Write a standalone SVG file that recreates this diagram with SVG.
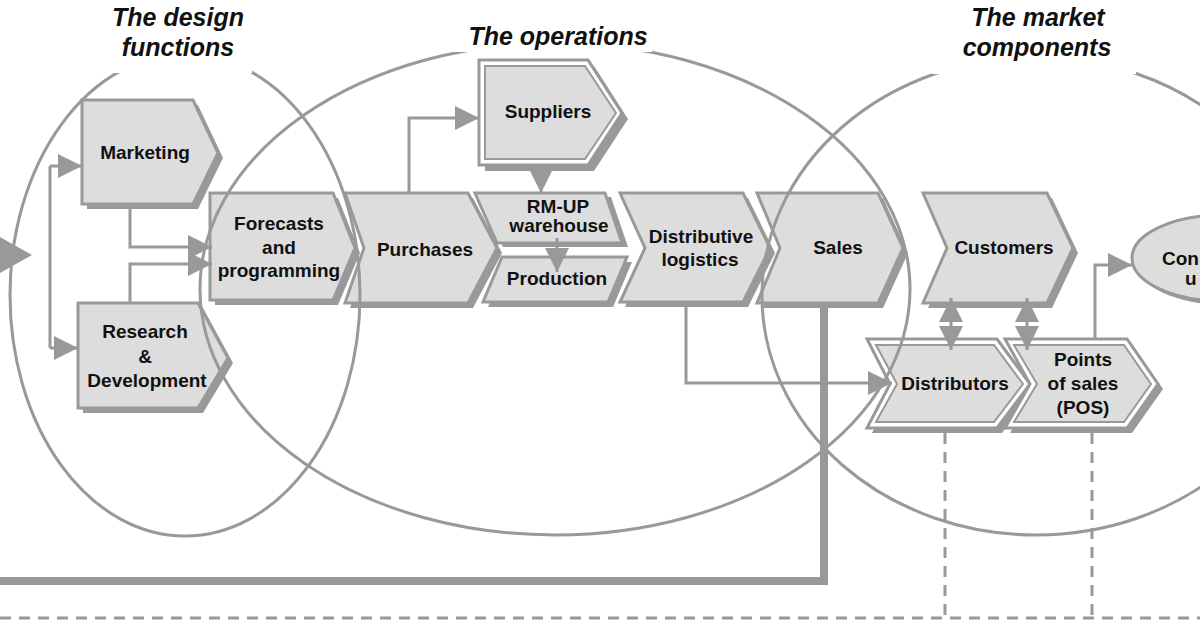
<svg xmlns="http://www.w3.org/2000/svg" width="1200" height="630" viewBox="0 0 1200 630">
<style>
.sh{fill:#999;stroke:none}
.nd{fill:#dddddd;stroke:#999;stroke-width:3;stroke-linejoin:miter}
.outer{fill:#ffffff;stroke:#999;stroke-width:3}
.inner{fill:#dddddd;stroke:#999;stroke-width:2}
.lbl{font-family:"Liberation Sans",Arial,sans-serif;font-weight:bold;font-size:19px;fill:#111;text-anchor:middle}
.ttl{font-family:"Liberation Sans",Arial,sans-serif;font-weight:bold;font-style:italic;font-size:25px;fill:#111;text-anchor:middle}
.c{fill:none;stroke:#999;stroke-width:3}
.ell{fill:none;stroke:#999;stroke-width:3}
.dash{fill:none;stroke:#999;stroke-width:3;stroke-dasharray:11 8}
</style>
<defs>
<marker id="ah" viewBox="0 0 24 24" refX="24" refY="12" markerWidth="24" markerHeight="24" markerUnits="userSpaceOnUse" orient="auto-start-reverse">
<path d="M0,0 L24,12 L0,24 Z" fill="#999"/>
</marker>
</defs>
<rect width="1200" height="630" fill="#ffffff"/>

<g id="marketing">
<polygon class="sh" transform="translate(5,5)" points="82,100 193,100 218,153 193,204 82,204"/>
<polygon class="nd" points="82,100 193,100 218,153 193,204 82,204"/>
<text class="lbl" x="145" y="159">Marketing</text>
</g>
<g id="research">
<polygon class="sh" transform="translate(5,5)" points="78,303 198,303 228,358 198,408 78,408"/>
<polygon class="nd" points="78,303 198,303 228,358 198,408 78,408"/>
<text class="lbl" x="145" y="338">Research</text>
<text class="lbl" x="145" y="363">&amp;</text>
<text class="lbl" x="147" y="387">Development</text>
</g>
<g id="forecasts">
<polygon class="sh" transform="translate(5,5)" points="210,193 333,193 355,248 333,300 210,300"/>
<polygon class="nd" points="210,193 333,193 355,248 333,300 210,300"/>
<text class="lbl" x="279" y="230">Forecasts</text>
<text class="lbl" x="279" y="254">and</text>
<text class="lbl" x="279" y="277">programming</text>
</g>
<g id="purchases">
<polygon class="sh" transform="translate(5,5)" points="345,193 468,193 497,248 468,303 345,303 364,248"/>
<polygon class="nd" points="345,193 468,193 497,248 468,303 345,303 364,248"/>
<text class="lbl" x="425" y="256">Purchases</text>
</g>
<g id="suppliers">
<polygon class="sh" transform="translate(6,6)" points="479,60 588,60 622,113 588,165 479,165"/>
<polygon class="outer" points="479,60 588,60 622,113 588,165 479,165"/>
<polygon class="inner" points="485,66 585,66 616,113 585,159 485,159"/>
<text class="lbl" x="548" y="118">Suppliers</text>
</g>
<g id="rmup">
<polygon class="sh" transform="translate(6,4)" points="475,193 605,193 622,243 497,243"/>
<polygon class="nd" points="475,193 605,193 622,243 497,243"/>
<text class="lbl" x="558" y="213">RM-UP</text>
<text class="lbl" x="559" y="232">warehouse</text>
</g>
<g id="production">
<polygon class="sh" transform="translate(5,5)" points="502,257 627,257 608,302 483,302"/>
<polygon class="nd" points="502,257 627,257 608,302 483,302"/>
<text class="lbl" x="557" y="285">Production</text>
</g>
<g id="distributive">
<polygon class="sh" transform="translate(5,5)" points="620,193 743,193 770,248 743,302 620,302 645,248"/>
<polygon class="nd" points="620,193 743,193 770,248 743,302 620,302 645,248"/>
<text class="lbl" x="701" y="243">Distributive</text>
<text class="lbl" x="700" y="266">logistics</text>
</g>
<g id="sales">
<polygon class="sh" transform="translate(5,5)" points="757,193 878,193 903,248 878,303 757,303 780,248"/>
<polygon class="nd" points="757,193 878,193 903,248 878,303 757,303 780,248"/>
<text class="lbl" x="838" y="254">Sales</text>
</g>
<g id="customers">
<polygon class="sh" transform="translate(5,5)" points="923,193 1047,193 1073,248 1047,303 923,303 947,248"/>
<polygon class="nd" points="923,193 1047,193 1073,248 1047,303 923,303 947,248"/>
<text class="lbl" x="1004" y="254">Customers</text>
</g>
<g id="distributors">
<polygon class="sh" transform="translate(5,5)" points="867,339 997,339 1030,384 997,428 867,428 890,384"/>
<polygon class="outer" points="867,339 997,339 1030,384 997,428 867,428 890,384"/>
<polygon class="inner" points="876,345 994,345 1023,384 994,422 876,422 897,384"/>
<text class="lbl" x="955" y="390">Distributors</text>
</g>
<g id="pos">
<polygon class="sh" transform="translate(5,5)" points="1005,339 1127,339 1158,384 1127,428 1005,428 1030,384"/>
<polygon class="outer" points="1005,339 1127,339 1158,384 1127,428 1005,428 1030,384"/>
<polygon class="inner" points="1014,345 1124,345 1151,384 1124,422 1014,422 1037,384"/>
<text class="lbl" x="1083" y="366">Points</text>
<text class="lbl" x="1083" y="390">of sales</text>
<text class="lbl" x="1083" y="414">(POS)</text>
</g>
<g id="consumers">
<ellipse class="sh" cx="1226" cy="262" rx="90" ry="43"/>
<ellipse class="nd" cx="1222" cy="258" rx="90" ry="43"/>
<text class="lbl" x="1162" y="265" style="text-anchor:start">Con</text>
<text class="lbl" x="1185" y="285" style="text-anchor:start">u</text>
</g>

<g id="connectors">
<polygon points="0,237 32,255 0,273" fill="#999"/>
<path class="c" d="M50,166 V348"/>
<path class="c" d="M50,166 H82" marker-end="url(#ah)"/>
<path class="c" d="M50,348 H78" marker-end="url(#ah)"/>
<path class="c" d="M130,205 V247 H212" marker-end="url(#ah)"/>
<path class="c" d="M130,303 V264 H212" marker-end="url(#ah)"/>
<path class="c" d="M409,193 V118 H479" marker-end="url(#ah)"/>
<path class="c" d="M541,166 V193" marker-end="url(#ah)"/>
<path class="c" d="M557,238 V272" marker-end="url(#ah)"/>
<path class="c" d="M686,307 V383 H892" marker-end="url(#ah)"/>
<path class="c" d="M951,298 V350" marker-start="url(#ah)" marker-end="url(#ah)"/>
<path class="c" d="M1027,298 V350" marker-start="url(#ah)" marker-end="url(#ah)"/>
<path class="c" d="M1095,339 V265 H1132" marker-end="url(#ah)"/>
<path d="M824,307 V581 H0" fill="none" stroke="#999" stroke-width="8"/>
<path class="dash" d="M945,433 V618"/>
<path class="dash" d="M1092,433 V618"/>
<path class="dash" d="M0,618 H1200"/>
</g>

<g id="groups">
<ellipse class="ell" cx="185" cy="295" rx="175" ry="241"/>
<ellipse class="ell" cx="555" cy="289" rx="355" ry="246"/>
<ellipse class="ell" cx="1036" cy="296" rx="274" ry="239"/>
<rect x="105" y="0" width="147" height="73" fill="#ffffff"/>
<rect x="454" y="0" width="198" height="52" fill="#ffffff"/>
<rect x="932" y="0" width="204" height="74" fill="#ffffff"/>
<text class="ttl" x="178" y="26">The design</text>
<text class="ttl" x="178" y="56">functions</text>
<text class="ttl" x="558" y="45">The operations</text>
<text class="ttl" x="1038" y="26">The market</text>
<text class="ttl" x="1037" y="56">components</text>
</g>
</svg>
